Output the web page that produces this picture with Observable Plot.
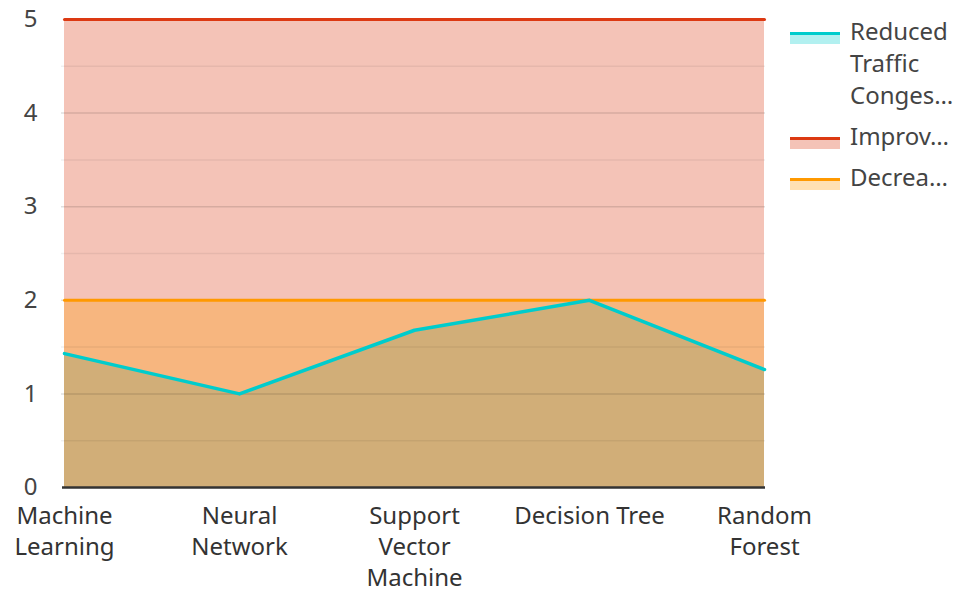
<!DOCTYPE html>
<html>
<head>
<meta charset="utf-8">
<script src="https://cdn.jsdelivr.net/npm/d3@7"></script>
<script src="https://cdn.jsdelivr.net/npm/@observablehq/plot@0.6"></script>
<style>
  html, body { margin: 0; padding: 0; background: #fff; }
  #wrap { position: relative; width: 957px; height: 589px; font-family: "Noto Sans", sans-serif; }
  #legend { position: absolute; left: 790px; top: 15px; color: #444; font-size: 24px; line-height: 32px; }
  .item { display: flex; align-items: flex-start; margin-bottom: 9px; }
  .sw { width: 50px; height: 12px; margin-top: 17px; margin-right: 10px; border-top: 3px solid; box-sizing: border-box; flex: none; }
</style>
</head>
<body>
<div id="wrap"><div id="legend"></div></div>
<script>
const categories = ["Machine Learning", "Neural Network", "Support Vector Machine", "Decision Tree", "Random Forest"];
const tickLabels = ["Machine\nLearning", "Neural\nNetwork", "Support\nVector\nMachine", "Decision Tree", "Random\nForest"];
const reducedCongestion = [1.43, 1.0, 1.68, 2.0, 1.26];
const improvedValues = [5, 5, 5, 5, 5];
const decreasedValues = [2, 2, 2, 2, 2];
const seriesNames = ["Reduced\nTraffic\nConges…", "Improv…", "Decrea…"];
const seriesColors = ["#00cccc", "#dc3912", "#ff9900"];
const yTicks = [0, 1, 2, 3, 4, 5];
const gridHalf = [0.5, 1.5, 2.5, 3.5, 4.5];

const rows = (vals) => categories.map((c, i) => ({cat: c, v: vals[i]}));
const cyanRows = rows(reducedCongestion);
const redRows = rows(improvedValues);
const orangeRows = rows(decreasedValues);

const chart = Plot.plot({
  width: 957,
  height: 589,
  marginLeft: 63,
  marginRight: 192,
  marginTop: 19,
  marginBottom: 102,
  style: {fontFamily: "Noto Sans", fontSize: "24px", color: "#444", background: "transparent"},
  x: {type: "point", domain: categories, padding: 0},
  y: {domain: [0, 5]},
  marks: [
    Plot.areaY(cyanRows, {x: "cat", y: "v", fill: seriesColors[0], fillOpacity: 0.3}),
    Plot.areaY(redRows, {x: "cat", y: "v", fill: seriesColors[1], fillOpacity: 0.3}),
    Plot.areaY(orangeRows, {x: "cat", y: "v", fill: seriesColors[2], fillOpacity: 0.3}),
    Plot.ruleY(gridHalf, {stroke: "#000", strokeOpacity: 0.06, strokeWidth: 1.5, insetLeft: -2}),
    Plot.ruleY(yTicks.slice(1, 5), {stroke: "#000", strokeOpacity: 0.12, strokeWidth: 1.5, insetLeft: -2}),
    Plot.lineY(redRows, {x: "cat", y: "v", stroke: seriesColors[1], strokeWidth: 3}),
    Plot.lineY(orangeRows, {x: "cat", y: "v", stroke: seriesColors[2], strokeWidth: 3}),
    Plot.lineY(cyanRows, {x: "cat", y: "v", stroke: seriesColors[0], strokeWidth: 3.5}),
    Plot.ruleY([0], {stroke: "#333", strokeWidth: 2.5, insetLeft: -1}),
    Plot.axisY({ticks: yTicks, tickSize: 0, tickPadding: 26, fontSize: 24, fill: "#444", label: null, tickFormat: d => String(d)}),
    Plot.axisX({tickSize: 0, tickPadding: 14, fontSize: 24, fill: "#333", lineHeight: 1.3, label: null,
      tickFormat: d => tickLabels[categories.indexOf(d)]})
  ]
});
document.getElementById("wrap").prepend(chart);
chart.style.position = "absolute";
chart.style.left = "0";
chart.style.top = "0";

const legend = document.getElementById("legend");
seriesNames.forEach((name, i) => {
  const item = document.createElement("div");
  item.className = "item";
  const sw = document.createElement("div");
  sw.className = "sw";
  sw.style.borderTopColor = seriesColors[i];
  sw.style.background = d3.color(seriesColors[i]).copy({opacity: 0.3}).formatRgb();
  const t = document.createElement("div");
  t.style.whiteSpace = "pre";
  t.textContent = name;
  item.append(sw, t);
  legend.append(item);
});
</script>
</body>
</html>
